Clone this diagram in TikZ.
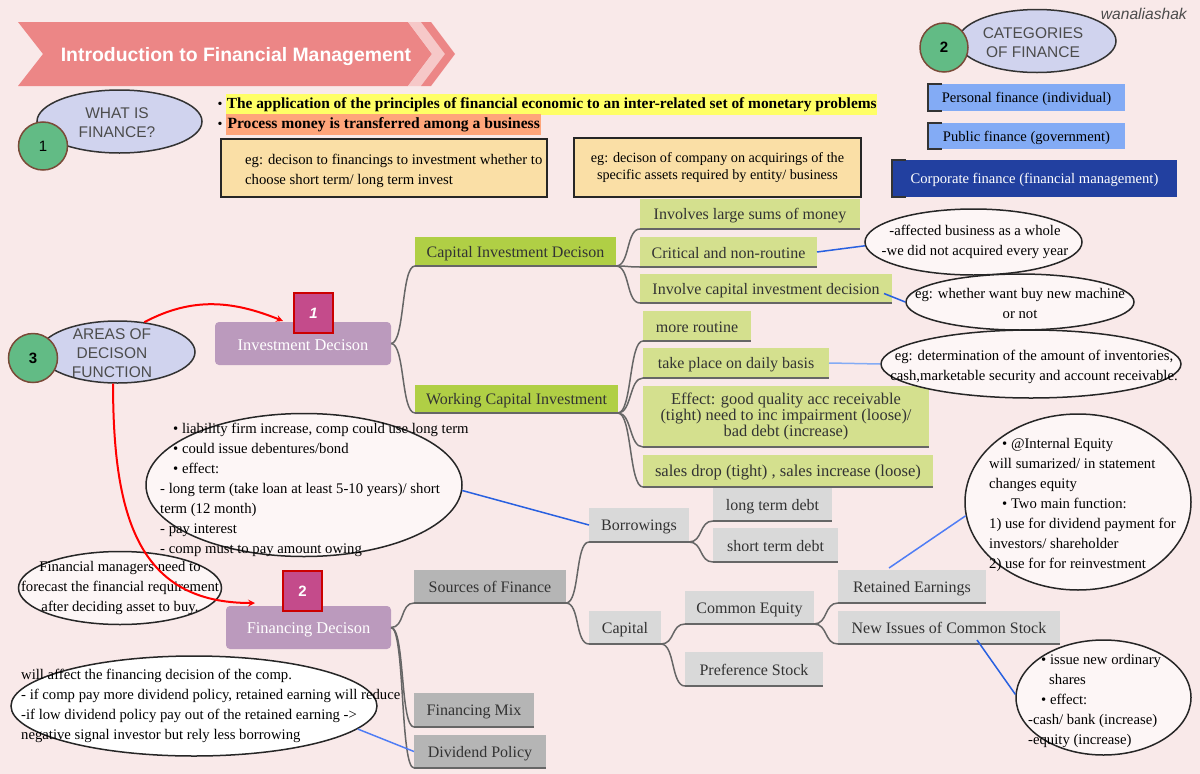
\documentclass[tikz,border=0pt]{standalone}
\usepackage{fontspec}
\setmainfont{Liberation Serif}
\setsansfont{Liberation Sans}
\usetikzlibrary{
    shapes.geometric,
}
\definecolor{pagebg}{HTML}{F9E9E9}
\definecolor{bannerred}{HTML}{EC8686}
\definecolor{bannerpale}{HTML}{F6C8C8}
\definecolor{ovalblue}{HTML}{D0D3EE}
\definecolor{circlegreen}{HTML}{62BB85}
\definecolor{circlebrown}{HTML}{7A4A38}
\definecolor{notefill}{HTML}{FDF6F6}
\definecolor{egfill}{HTML}{FADFA6}
\definecolor{skyblue}{HTML}{83ABF5}
\definecolor{deepblue}{HTML}{2240A0}
\definecolor{mauve}{HTML}{BB9ABD}
\definecolor{magentabox}{HTML}{C44B8B}
\definecolor{limegreen}{HTML}{B0CF45}
\definecolor{palegreen}{HTML}{D4E08E}
\definecolor{midgrey}{HTML}{B5B5B5}
\definecolor{lightgrey}{HTML}{D9D9D9}
\definecolor{branchgrey}{HTML}{666666}
\definecolor{treetext}{HTML}{333333}
\definecolor{marklemon}{HTML}{FFFF66}
\definecolor{marksalmon}{HTML}{FFA57A}
\definecolor{linkblue}{HTML}{4F7DF5}
\definecolor{linkdeep}{HTML}{2860E0}
\tikzset{
    mapbox/.style={
            fill=#1,
            anchor=south west,
            inner sep=0pt,
            outer sep=0pt,
            text=treetext,
            align=center,
            font=\fontsize{16}{20}\selectfont,
            execute at begin node={\rule{0pt}{15pt}},
            execute at end node={\rule[-3pt]{0pt}{3pt}},
            append after command={
                    (\tikzlastnode.south west) edge[draw=branchgrey, line width=1.5] (\tikzlastnode.south east)
                },
        }
}
\tikzset{
    branch/.style={
            draw=branchgrey,
            line width=1.5,
            to path={.. controls +(14,0) and +(-14,0) .. (\tikztotarget)},
        }
}
\tikzset{
    areaoval/.style={
            ellipse,
            draw=black!80,
            fill=ovalblue,
            line width=1.5,
            inner sep=0pt,
        }
}
\tikzset{
    numcircle/.style={
            ellipse,
            draw=circlebrown,
            fill=circlegreen,
            line width=1.5,
            inner sep=0pt,
            font=\sffamily\fontsize{15}{18}\selectfont,
        }
}
\tikzset{
    noteoval/.style={
            ellipse,
            draw=black!85,
            fill=notefill,
            line width=1.5,
            inner sep=0pt,
        }
}
\tikzset{
    notetext/.style={
            inner sep=0pt,
            align=left,
            anchor=north west,
            font=\fontsize{14.7}{20}\selectfont,
        }
}
\tikzset{
    ovaltext/.style={
            inner sep=0pt,
            align=center,
            text=black!70,
            font=\sffamily\fontsize{15.5}{19}\selectfont,
        }
}
\tikzset{
    egbox/.style={
            draw=black!85,
            fill=egfill,
            line width=1.5,
            anchor=north west,
            inner sep=0pt,
            outer sep=0pt,
        }
}
\tikzset{
    catbox/.style={
            fill=skyblue,
            anchor=north west,
            inner sep=0pt,
            outer sep=0pt,
            font=\fontsize{14.6}{18}\selectfont,
            execute at begin node={\rule{0pt}{14pt}},
        }
}
\tikzset{
    decisonbox/.style={
            fill=mauve,
            rounded corners=4,
            anchor=north west,
            inner sep=0pt,
            outer sep=0pt,
            text=white,
            font=\fontsize{16.4}{18}\selectfont,
            execute at begin node={\rule{0pt}{15pt}},
        }
}
\tikzset{
    tagbox/.style={
            draw=red!80!black,
            fill=magentabox,
            line width=1.5,
            anchor=north west,
            inner sep=0pt,
            outer sep=0pt,
            text=white,
            font=\sffamily\bfseries\itshape\fontsize{15}{18}\selectfont,
        }
}
\tikzset{
    noteline/.style={
            draw=#1,
            line width=1.5,
        }
}
\tikzset{
    redarrow/.style={
            draw=red,
            line width=2,
            -stealth,
        }
}
\begin{document}
\begin{tikzpicture}[x=1pt,y=-1pt]
    \path[use as bounding box, fill=pagebg] (0,0) rectangle (1200,774);

    % banner
    \fill[bannerred] (18,22) -- (408,22) -- (432,54) -- (408,86) -- (18,86) -- (43,54) -- cycle;
    \fill[bannerpale] (408,22) -- (421,22) -- (445,54) -- (421,86) -- (408,86) -- (432,54) -- cycle;
    \fill[bannerred] (421,22) -- (431,22) -- (455,54) -- (431,86) -- (421,86) -- (445,54) -- cycle;
    \node[
        inner sep=0pt,
        text=white,
        font=\sffamily\bfseries\fontsize{19.4}{22}\selectfont,
    ] (title) at (236,56.5) {Introduction to Financial Management};

    % what is finance
    \node[
        areaoval,
        minimum width=165,
        minimum height=63,
    ] (whatoval) at (119.5,121.5) {};
    \node[ovaltext] (whattext) at (117,122.5) {WHAT IS\\FINANCE?};
    \node[
        numcircle,
        minimum width=49,
        minimum height=48,
    ] (whatnum) at (43,146) {1};

    % definitions
    \foreach \y/\n in {105/a,125/b}
        \node[inner sep=0pt, font=\fontsize{14}{18}\selectfont] (bullet-\n) at (220,\y) {\textbullet};
    \node[
        fill=marklemon,
        anchor=north west,
        inner sep=0pt,
        minimum width=651,
        minimum height=21,
        font=\bfseries\fontsize{15.4}{18}\selectfont,
    ] (defa) at (226,94) {The application of the principles of financial economic to an inter-related set of monetary problems};
    \node[
        fill=marksalmon,
        anchor=north west,
        inner sep=0pt,
        minimum width=315,
        minimum height=21,
        font=\bfseries\fontsize{15.6}{18}\selectfont,
    ] (defb) at (226,114) {Process money is transferred among a business};

    % examples
    \node[
        egbox,
        minimum width=326,
        minimum height=58,
    ] (ega) at (221,139) {};
    \node[notetext] (egatext) at (245,153.5) {eg: decison to financings to investment whether to\\choose short term/ long term invest};
    \node[
        egbox,
        minimum width=287,
        minimum height=59,
        align=center,
        font=\fontsize{14.2}{17}\selectfont,
        execute at begin node={\rule{0pt}{14pt}},
    ] (egb) at (574,138) {eg: decison of company on acquirings of the\\specific assets required by entity/ business};

    % categories of finance
    \node[
        areaoval,
        minimum width=158,
        minimum height=63,
    ] (catoval) at (1037,41) {};
    \node[ovaltext] (cattext) at (1033,43) {CATEGORIES\\OF FINANCE};
    \node[
        numcircle,
        minimum width=48,
        minimum height=49,
        font=\sffamily\bfseries\fontsize{15}{18}\selectfont,
    ] (catnum) at (944,47.5) {2};
    \node[
        inner sep=0pt,
        anchor=east,
        text=black!70,
        font=\sffamily\itshape\fontsize{15.6}{18}\selectfont,
    ] (signature) at (1187,14) {wanaliashak};
    \node[catbox, minimum width=197, minimum height=27] (personal) at (928,84) {Personal finance (individual)};
    \node[catbox, minimum width=197, minimum height=26] (public) at (928,123) {Public finance (government)};
    \node[
        catbox,
        fill=deepblue,
        text=white,
        minimum width=285,
        minimum height=37,
    ] (corporate) at (892,160) {Corporate finance (financial management)};
    \foreach \n in {personal,public,corporate}
        \draw[black!80, line width=1.5] ([xshift=14]\n.north west) -- (\n.north west) -- (\n.south west) -- ([xshift=14]\n.south west);

    % areas of decison function
    \node[
        areaoval,
        minimum width=155,
        minimum height=62,
    ] (areaoval) at (117.5,352) {};
    \node[ovaltext] (areatext) at (112,353) {AREAS OF\\DECISON\\FUNCTION};
    \node[
        numcircle,
        minimum width=49,
        minimum height=49,
        font=\sffamily\bfseries\fontsize{15}{18}\selectfont,
    ] (areanum) at (33,358) {3};

    % decisons
    \node[decisonbox, minimum width=176, minimum height=43] (inv) at (215,322) {Investment Decison};
    \node[tagbox, minimum width=39, minimum height=40] (invtag) at (294,293) {1};
    \node[decisonbox, minimum width=165, minimum height=43] (fin) at (226,606) {Financing Decison};
    \node[tagbox, minimum width=39, minimum height=40, font=\sffamily\bfseries\fontsize{15}{18}\selectfont] (fintag) at (283,571) {2};

    % investment branch
    \node[mapbox=limegreen, minimum width=201, minimum height=29] (capinv) at (415,266) {Capital Investment Decison};
    \node[mapbox=limegreen, minimum width=203, minimum height=28] (workcap) at (415,413) {Working Capital Investment};
    \node[mapbox=palegreen, minimum width=220, minimum height=30] (large) at (640,229) {Involves large sums of money};
    \node[mapbox=palegreen, minimum width=177, minimum height=30] (critical) at (640,267) {Critical and non-routine};
    \node[mapbox=palegreen, minimum width=252, minimum height=29] (involve) at (640,303) {Involve capital investment decision};
    \node[mapbox=palegreen, minimum width=108, minimum height=30] (routine) at (643,341) {more routine};
    \node[mapbox=palegreen, minimum width=186, minimum height=30] (daily) at (643,378) {take place on daily basis};
    \node[
        mapbox=palegreen,
        minimum width=286,
        minimum height=61,
        font=\fontsize{16.4}{16}\selectfont,
        execute at begin node={\rule{0pt}{19pt}},
    ] (effect) at (643,447) {Effect: good quality acc receivable\\(tight) need to inc impairment (loose)/\\bad debt (increase)};
    \node[mapbox=palegreen, minimum width=290, minimum height=32, font=\fontsize{16.6}{20}\selectfont] (sales) at (643,487) {sales drop (tight) , sales increase (loose)};

    % financing branch
    \node[mapbox=midgrey, minimum width=152, minimum height=33] (sources) at (414,603) {Sources of Finance};
    \node[mapbox=midgrey, minimum width=120, minimum height=34] (mix) at (414,727) {Financing Mix};
    \node[mapbox=midgrey, minimum width=132, minimum height=33] (dividend) at (414,768) {Dividend Policy};
    \node[mapbox=lightgrey, minimum width=100, minimum height=34] (borrow) at (589,542) {Borrowings};
    \node[mapbox=lightgrey, minimum width=119, minimum height=33] (longdebt) at (713,521) {long term debt};
    \node[mapbox=lightgrey, minimum width=125, minimum height=34] (shortdebt) at (713,562) {short term debt};
    \node[mapbox=lightgrey, minimum width=72, minimum height=33] (capital) at (589,644) {Capital};
    \node[mapbox=lightgrey, minimum width=129, minimum height=33] (common) at (685,624) {Common Equity};
    \node[mapbox=lightgrey, minimum width=138, minimum height=34] (prefer) at (685,686) {Preference Stock};
    \node[mapbox=lightgrey, minimum width=148, minimum height=33] (retained) at (838,603) {Retained Earnings};
    \node[mapbox=lightgrey, minimum width=222, minimum height=33] (newissue) at (838,644) {New Issues of Common Stock};

    % parent -> child
    \foreach \p/\c in {
            inv.east/capinv,
            inv.east/workcap,
            capinv.south east/large,
            capinv.south east/critical,
            capinv.south east/involve,
            workcap.south east/routine,
            workcap.south east/daily,
            workcap.south east/effect,
            workcap.south east/sales,
            fin.east/sources,
            fin.east/mix,
            fin.east/dividend,
            sources.south east/borrow,
            sources.south east/capital,
            borrow.south east/longdebt,
            borrow.south east/shortdebt,
            capital.south east/common,
            capital.south east/prefer,
            common.south east/retained,
            common.south east/newissue%
        }
        \draw[branch] (\p) to (\c.south west);

    % notes
    \node[noteoval, minimum width=217, minimum height=66] (wholeoval) at (973.5,242) {};
    \node[notetext, align=center, anchor=center] (wholetext) at (975,242) {-affected business as a whole\\-we did not acquired every year};
    \node[noteoval, minimum width=228, minimum height=56] (machineoval) at (1020,302) {};
    \node[notetext, align=center, anchor=center] (machinetext) at (1020,303) {eg: whether want buy new machine\\or not};
    \node[noteoval, minimum width=300, minimum height=68] (amountoval) at (1031,364) {};
    \node[notetext, align=center, anchor=center] (amounttext) at (1034,367) {eg: determination of the amount of inventories,\\cash,marketable security and account receivable.};
    \node[noteoval, minimum width=316, minimum height=143] (debtoval) at (304,485) {};
    \node[notetext] (debttext) at (160,423) {\hspace*{13pt}\textbullet\ liability firm increase, comp could use long term\\\hspace*{13pt}\textbullet\ could issue debentures/bond\\\hspace*{13pt}\textbullet\ effect:\\- long term (take loan at least 5-10 years)/ short\\term (12 month)\\- pay interest\\- comp must to pay amount owing};
    \node[noteoval, minimum width=203, minimum height=73] (foreoval) at (120,588) {};
    \node[notetext, align=center, anchor=center] (foretext) at (120,587.5) {Financial managers need to\\forecast the financial requirement\\after deciding asset to buy.};
    \node[noteoval, fill=white, minimum width=366, minimum height=100] (policyoval) at (194,706) {};
    \node[notetext] (policytext) at (21,669) {will affect the financing decision of the comp.\\- if comp pay more dividend policy, retained earning will reduce\\-if low dividend policy pay out of the retained earning ->\\negative signal investor but rely less borrowing};
    \node[noteoval, minimum width=226, minimum height=176] (equityoval) at (1078,502) {};
    \node[notetext] (equitytext) at (989,438) {\hspace*{13pt}\textbullet\ @Internal Equity\\will sumarized/ in statement\\changes equity\\\hspace*{13pt}\textbullet\ Two main function:\\1) use for dividend payment for\\investors/ shareholder\\2) use for for reinvestment};
    \node[noteoval, minimum width=175, minimum height=115] (issueoval) at (1103.5,697.5) {};
    \node[notetext] (issuetext) at (1028,654) {\hspace*{13pt}\textbullet\ issue new ordinary\\\hspace*{21pt}shares\\\hspace*{13pt}\textbullet\ effect:\\-cash/ bank (increase)\\-equity (increase)};

    % note -> box
    \draw[noteline=linkdeep] (critical.east) -- (wholeoval.182);
    \draw[noteline=linkdeep] ([shift={(-8,5)}]involve.east) -- (machineoval.west);
    \draw[noteline=skyblue] (daily.east) -- (amountoval.west);
    \draw[noteline=linkdeep] (debtoval.-2) -- (borrow.west);
    \draw[noteline=linkblue] (policyoval.-8) -- (dividend.west);
    \coordinate (retainedtop) at (889,568);
    \coordinate (issuetop) at (977,640);
    \draw[noteline=linkblue] (retainedtop) -- (equityoval.187);
    \draw[noteline=linkdeep] (issuetop) -- (issueoval.178);

    % areas -> decisons
    \coordinate (invtip) at (283,321);
    \coordinate (fintip) at (255,603);
    \draw[redarrow] (areaoval.48) to[out=28,in=158] (invtip);
    \draw[redarrow] (areaoval.-98) .. controls (113,520) and (140,603) .. (fintip);
\end{tikzpicture}
\end{document}
